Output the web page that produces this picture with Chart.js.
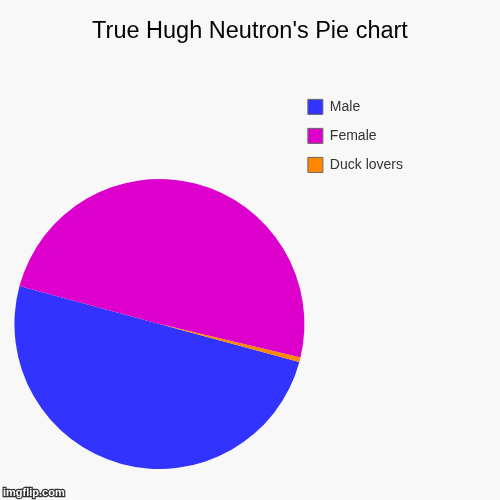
<!DOCTYPE html>
<html>
<head>
<meta charset="utf-8">
<script src="https://cdn.jsdelivr.net/npm/chart.js@4"></script>
<style>
    html, body { margin: 0; padding: 0; background: #f8f8f8; }
    #wrap { width: 500px; height: 500px; }
</style>
</head>
<body>
<div id="wrap"><canvas id="chartPie"></canvas></div>
<script>
const categorias = ['Male', 'Female', 'Duck lovers'];
const valores = [50, 49.5, 0.5];
const cores = ['#3333ff', '#dd00cc', '#ff8800'];

const fonte = "'Liberation Sans', Arial, sans-serif";

// título centralizado na largura toda do canvas (não só na área sem legenda)
const tituloCentral = {
    id: 'tituloCentral',
    afterLayout(chart) {
        const t = chart.titleBlock;
        if (t) {
            t.left = 0;
            t.right = chart.width;
            t.width = chart.width;
        }
    }
};

// marca d'água no canto inferior esquerdo
const marcaDagua = {
    id: 'marcaDagua',
    afterDraw(chart) {
        const ctx = chart.ctx;
        ctx.save();
        ctx.font = 'bold 11px ' + fonte;
        ctx.textBaseline = 'alphabetic';
        ctx.lineWidth = 2.5;
        ctx.strokeStyle = '#333';
        ctx.fillStyle = '#fff';
        ctx.strokeText('imgflip.com', 3, 496);
        ctx.fillText('imgflip.com', 3, 496);
        ctx.restore();
    }
};

new Chart(document.getElementById('chartPie'), {
    type: 'pie',
    data: {
        labels: categorias,
        datasets: [{
            data: valores,
            backgroundColor: cores,
            borderWidth: 0
        }]
    },
    options: {
        responsive: true,
        maintainAspectRatio: false,
        animation: false,
        rotation: 105.2,
        radius: 145,
        layout: {
            padding: { top: 0, left: 25, right: 87, bottom: 31 }
        },
        plugins: {
            title: {
                display: true,
                text: "True Hugh Neutron's Pie chart",
                color: '#000',
                font: { family: fonte, size: 23.5, weight: 'normal' },
                padding: { top: 17, bottom: 133.8 }
            },
            legend: {
                position: 'right',
                align: 'start',
                title: {
                    display: true,
                    text: '',
                    padding: { top: 71, bottom: 0 }
                },
                labels: {
                    boxWidth: 15,
                    boxHeight: 15,
                    padding: 14,
                    color: '#333',
                    font: { family: fonte, size: 14 },
                    generateLabels: function (chart) {
                        const itens = Chart.overrides.pie.plugins.legend.labels.generateLabels(chart);
                        itens.forEach(function (item) {
                            item.strokeStyle = '#666';
                            item.lineWidth = 1;
                        });
                        return itens;
                    }
                }
            },
            tooltip: { enabled: false }
        }
    },
    plugins: [tituloCentral, marcaDagua]
});
</script>
</body>
</html>
